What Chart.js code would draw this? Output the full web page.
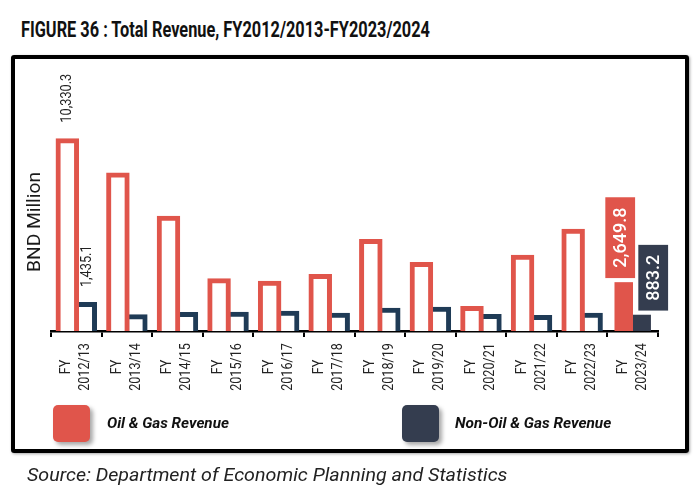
<!DOCTYPE html>
<html>
<head>
<meta charset="utf-8">
<script src="https://cdn.jsdelivr.net/npm/chart.js@4.4.1/dist/chart.umd.min.js"></script>
<style>
  body { margin: 0; width: 696px; height: 504px; background: #fff; position: relative; overflow: hidden; font-family: Roboto, sans-serif; }
  .fit { position: absolute; white-space: nowrap; transform-origin: 0 0; }
  #title { left: 21px; top: 19px; font-size: 22px; line-height: 22px; font-weight: 700; color: #111; }
  #frame { position: absolute; left: 11px; top: 55px; width: 678px; height: 398px; box-sizing: border-box;
           border: 4px solid #000; border-radius: 3px; box-shadow: 1px 1px 3px rgba(0,0,0,.35); }
  #chart { position: absolute; left: 0; top: 0; }
  .sw { position: absolute; top: 405px; width: 37px; height: 37px; border-radius: 5px; box-shadow: 3px 3px 4px rgba(0,0,0,.35); }
  .lg { top: 416px; font-size: 15px; line-height: 15px; font-weight: 700; font-style: italic; color: #111; }
  #source { left: 27px; top: 466px; font-size: 18px; line-height: 18px; font-style: italic; color: #222; }
</style>
</head>
<body>
<div id="title" class="fit" data-w="409">FIGURE 36 : Total Revenue, FY2012/2013-FY2023/2024</div>
<div id="frame"></div>
<canvas id="chart" width="696" height="504"></canvas>
<div class="sw" style="left:53px;background:#e0554b"></div>
<div class="fit lg" style="left:107px" data-w="122">Oil &amp; Gas Revenue</div>
<div class="sw" style="left:402px;background:#343d4f"></div>
<div class="fit lg" style="left:455px" data-w="156">Non-Oil &amp; Gas Revenue</div>
<div id="source" class="fit" data-w="481">Source: Department of Economic Planning and Statistics</div>
<script>
const categories = [
  ['FY', '2012/13'], ['FY', '2013/14'], ['FY', '2014/15'], ['FY', '2015/16'],
  ['FY', '2016/17'], ['FY', '2017/18'], ['FY', '2018/19'], ['FY', '2019/20'],
  ['FY', '2020/21'], ['FY', '2021/22'], ['FY', '2022/23'], ['FY', '2023/24']
];
const oilGas = [10330.3, 8470, 6120, 2720, 2590, 2960, 4850, 3610, 1220, 4000, 5410, 2649.8];
const nonOilGas = [1435.1, 770, 895, 910, 965, 857, 1128, 1182, 786, 732, 857, 883.2];
const yAxisTitle = 'BND Million';

const RED = '#e0554b';
const NAVY = '#1f3b56';
const SLATE = '#343d4f';
const last = categories.length - 1;

// squeeze the HTML texts to the condensed widths of the original
document.querySelectorAll('.fit').forEach(el => {
  const w = +el.dataset.w;
  el.style.transform = 'scaleX(' + (w / el.offsetWidth) + ')';
});

function fmt(v) {
  return v.toLocaleString('en-US', { minimumFractionDigits: 1, maximumFractionDigits: 1 });
}

function rotText(ctx, text, x, y, sx) {
  ctx.save();
  ctx.translate(x, y);
  ctx.rotate(-Math.PI / 2);
  ctx.scale(sx, 1);
  ctx.fillText(text, 0, 0);
  ctx.restore();
}

const labelPlugin = {
  id: 'labels',
  afterDraw(chart) {
    const ctx = chart.ctx;
    const xs = chart.scales.x;
    ctx.save();

    // y axis title
    ctx.fillStyle = '#1a1a1a';
    ctx.font = '19px Roboto';
    ctx.textAlign = 'center';
    ctx.textBaseline = 'middle';
    rotText(ctx, yAxisTitle, 35, 222, 100 / ctx.measureText(yAxisTitle).width);

    // category labels, two centred lines each
    ctx.fillStyle = '#222';
    ctx.font = '14px Roboto';
    categories.forEach((lines, i) => {
      const c = xs.getPixelForTick(i);
      lines.forEach((t, k) => rotText(ctx, t, c - 9.5 + 19 * k, 367, 0.9));
    });

    // first-year labels
    const r0 = chart.getDatasetMeta(0).data[0];
    const b0 = chart.getDatasetMeta(1).data[0];
    ctx.font = '15px Roboto';
    ctx.textAlign = 'left';
    ctx.fillStyle = '#222';
    rotText(ctx, fmt(oilGas[0]), r0.x, r0.y - 18, 0.85);
    rotText(ctx, fmt(nonOilGas[0]), b0.x + 2, b0.y - 17.5, 0.85);

    // latest-year boxed labels
    const cl = xs.getPixelForTick(last);
    const rl = chart.getDatasetMeta(0).data[last];
    const bl = chart.getDatasetMeta(1).data[last];
    const boxes = [
      { cx: cl - 12.5, bottom: rl.y - 4, h: 81, color: RED, text: fmt(oilGas[last]) },
      { cx: cl + 20.5, bottom: bl.y - 4, h: 66, color: SLATE, text: fmt(nonOilGas[last]) }
    ];
    ctx.font = '500 18px Roboto';
    ctx.textAlign = 'center';
    boxes.forEach(b => {
      ctx.fillStyle = b.color;
      ctx.fillRect(b.cx - 15, b.bottom - b.h, 30, b.h);
      ctx.strokeStyle = 'rgba(255,255,255,0.7)';
      ctx.lineWidth = 1;
      ctx.strokeRect(b.cx - 15.5, b.bottom - b.h - 0.5, 31, b.h + 1);
      ctx.fillStyle = '#fff';
      rotText(ctx, b.text, b.cx + 1, b.bottom - b.h / 2, 1);
    });
    ctx.restore();
  }
};

new Chart(document.getElementById('chart'), {
  type: 'bar',
  data: {
    labels: categories,
    datasets: [{
      label: 'Oil & Gas Revenue',
      data: oilGas,
      backgroundColor: c => c.dataIndex === last ? RED : '#fff',
      borderColor: RED,
      borderWidth: c => c.dataIndex === last ? 0 : 5,
      inflateAmount: c => c.dataIndex === last ? 0 : 2.5,
      categoryPercentage: 0.71,
      barPercentage: 1.03
    }, {
      label: 'Non-Oil & Gas Revenue',
      data: nonOilGas,
      backgroundColor: c => c.dataIndex === last ? SLATE : '#fff',
      borderColor: NAVY,
      borderWidth: c => c.dataIndex === last ? 0 : 5,
      inflateAmount: c => c.dataIndex === last ? 0 : 2.5,
      categoryPercentage: 0.71,
      barPercentage: 1.03
    }]
  },
  options: {
    responsive: false,
    animation: false,
    events: [],
    devicePixelRatio: 1,
    layout: { padding: { left: 51, right: 38, top: 73, bottom: 0 } },
    plugins: { legend: { display: false }, tooltip: { enabled: false } },
    scales: {
      x: {
        z: 1,
        ticks: { display: false },
        grid: { offset: true, drawOnChartArea: false, drawTicks: true, tickLength: 6, color: '#000', lineWidth: 2 },
        border: { display: true, color: '#000', width: 2.5 },
        afterFit: s => { s.height = 173; }
      },
      y: { display: false, min: 0, max: 14000 }
    }
  },
  plugins: [labelPlugin]
});
</script>
</body>
</html>
